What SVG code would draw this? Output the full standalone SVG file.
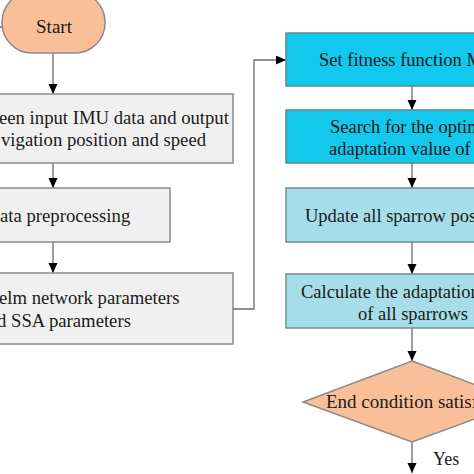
<svg xmlns="http://www.w3.org/2000/svg" width="474" height="474" viewBox="0 0 474 474">
<defs>
<marker id="ah" markerUnits="userSpaceOnUse" markerWidth="10" markerHeight="10" refX="10" refY="4.5" orient="auto">
<path d="M0,0 L10,4.5 L0,9 z" fill="#000"/>
</marker>
<style>
.t{font-family:"Liberation Serif","Times New Roman",serif;font-size:18.7px;fill:#1a1a1a}
.r{font-size:18.5px}
.g{fill:#f0f0f0;stroke:#8a8a8a;stroke-width:1.5}
.c{fill:#12c8ec;stroke:#5f8890;stroke-width:1.5}
.l{fill:#a6dde9;stroke:#6f8e94;stroke-width:1.5}
.p{fill:#f9bf98;stroke:#8a8a8a;stroke-width:1.5}
.e{fill:none;stroke:#6a6a6a;stroke-width:1.3}
</style>
</defs>
<rect width="474" height="474" fill="#fff"/>
<g id="connectors">
<line class="e" x1="0" y1="27" x2="2" y2="27"/>
<line class="e" x1="53" y1="53" x2="53" y2="94" marker-end="url(#ah)"/>
<line class="e" x1="53" y1="163" x2="53" y2="188" marker-end="url(#ah)"/>
<line class="e" x1="53" y1="242" x2="53" y2="273" marker-end="url(#ah)"/>
<polyline class="e" points="233,309 254,309 254,60 286,60" marker-end="url(#ah)"/>
<line class="e" x1="412" y1="86" x2="412" y2="110" marker-end="url(#ah)"/>
<line class="e" x1="412" y1="163" x2="412" y2="188" marker-end="url(#ah)"/>
<line class="e" x1="412" y1="242" x2="412" y2="274" marker-end="url(#ah)"/>
<line class="e" x1="412" y1="328" x2="412" y2="361" marker-end="url(#ah)"/>
<line class="e" x1="412" y1="442" x2="412" y2="473" marker-end="url(#ah)"/>
<text class="t" x="433" y="465" style="font-size:18px">Yes</text>
</g>
<g id="start">
<rect class="p" x="2" y="-8" width="103" height="61" rx="30" ry="30"/>
<text class="t" x="54" y="33" text-anchor="middle" style="font-size:19px">Start</text>
</g>
<g id="input">
<rect class="g" x="-5" y="94" width="238" height="69"/>
<text class="t" x="-1" y="124">een input IMU data and output</text>
<text class="t" x="1" y="146">vigation position and speed</text>
</g>
<g id="preprocess">
<rect class="g" x="-5" y="188" width="175" height="54"/>
<text class="t" x="0" y="222">ata preprocessing</text>
</g>
<g id="params">
<rect class="g" x="-5" y="273" width="238" height="71"/>
<text class="t" x="-1" y="304">elm network parameters</text>
<text class="t" x="-3" y="327">d SSA parameters</text>
</g>
<g id="fitness">
<rect class="c" x="286" y="33" width="200" height="53"/>
<text class="t r" x="319" y="66">Set fitness function M</text>
</g>
<g id="search">
<rect class="c" x="286" y="110" width="200" height="53"/>
<text class="t r" x="330" y="133">Search for the optim</text>
<text class="t r" x="329" y="155">adaptation value of</text>
</g>
<g id="update">
<rect class="l" x="286" y="188" width="200" height="54"/>
<text class="t r" x="305" y="222">Update all sparrow pos</text>
</g>
<g id="calculate">
<rect class="l" x="286" y="274" width="200" height="54"/>
<text class="t r" x="301" y="298">Calculate the adaptation</text>
<text class="t r" x="358" y="320">of all sparrows</text>
</g>
<g id="endcond">
<polygon class="p" points="412,361 521,402 412,442 303,402"/>
<text class="t" x="326" y="408" style="font-size:19px">End condition satisf</text>
</g>
</svg>
